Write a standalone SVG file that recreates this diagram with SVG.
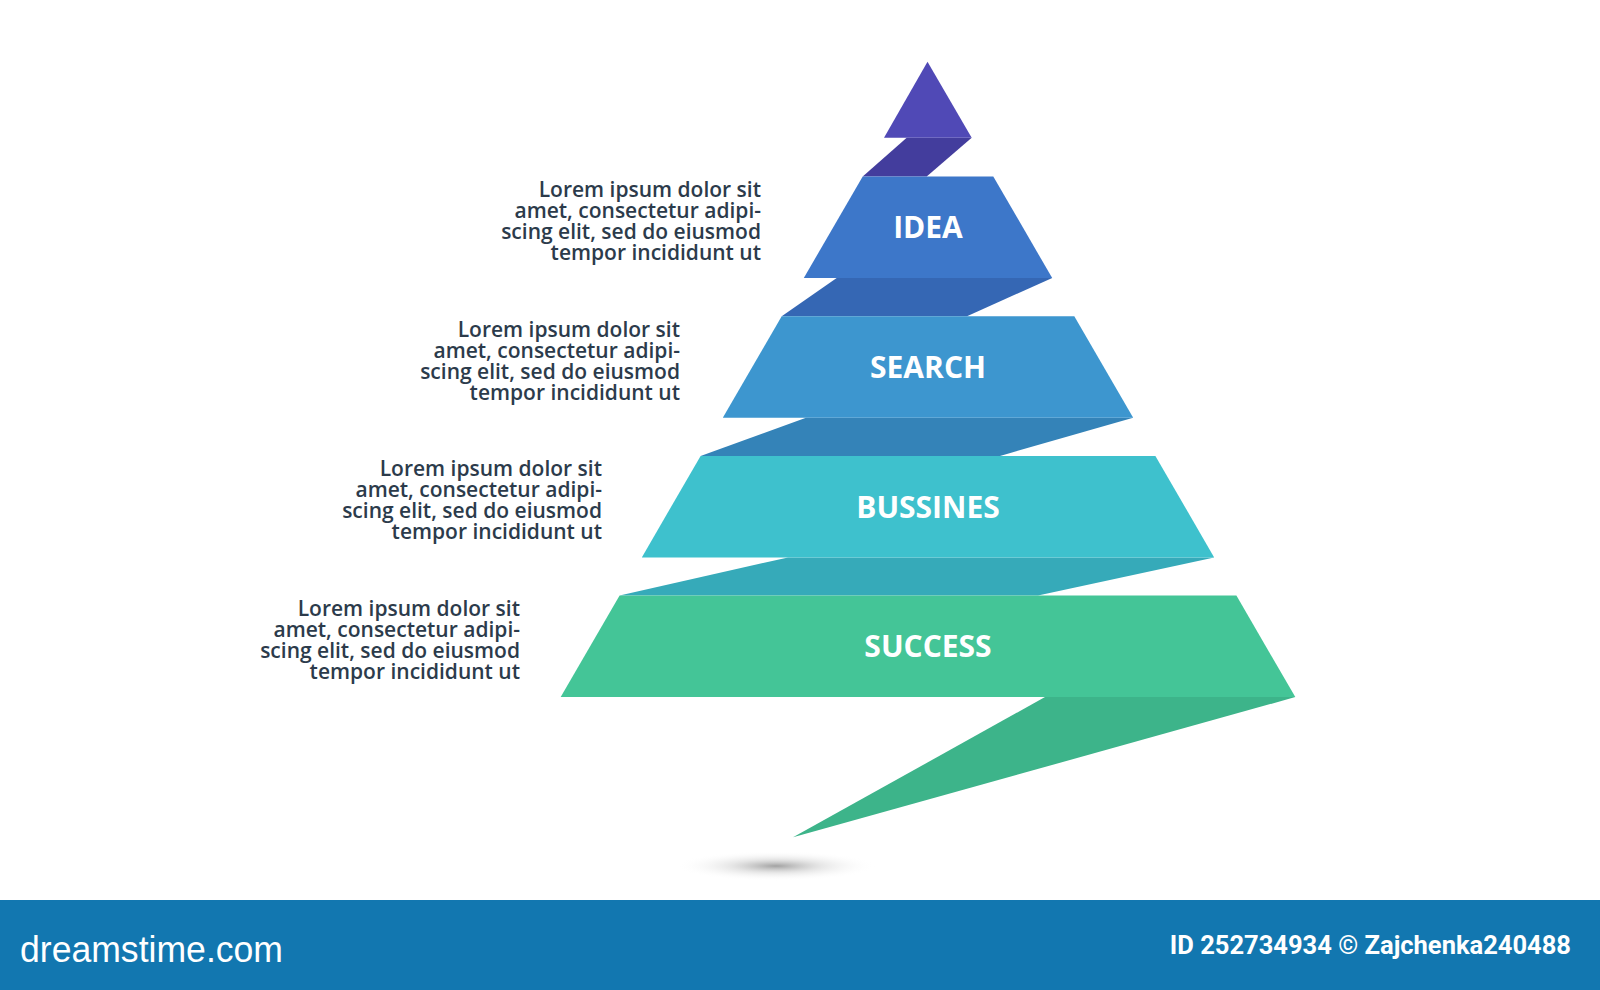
<svg xmlns="http://www.w3.org/2000/svg" width="1600" height="990" viewBox="0 0 1600 990">
<defs>
<radialGradient id="shadowGrad" cx="0.5" cy="0.5" r="0.5">
<stop offset="0" stop-color="#8a8a8a" stop-opacity="0.8"/>
<stop offset="0.45" stop-color="#c2c2c2" stop-opacity="0.4"/>
<stop offset="1" stop-color="#ffffff" stop-opacity="0"/>
</radialGradient>
<style>
.lbl{font-family:"Open Sans","Liberation Sans",sans-serif;font-weight:700;font-size:30px;fill:#ffffff;text-anchor:middle}
.desc{font-family:"Open Sans","Liberation Sans",sans-serif;font-weight:600;font-size:21px;fill:#2c3b4b;text-anchor:end}
</style>
</defs>
<rect x="0" y="0" width="1600" height="990" fill="#ffffff"/>
<ellipse cx="776" cy="866" rx="100" ry="15" fill="url(#shadowGrad)"/>
<g id="folds">
<polygon points="906.7,137.7 971.7,137.7 926.7,176.5 862.7,176.5" fill="#433d9d"/>
<polygon points="836.7,278 1052.2,278 967,316.2 781.7,316.2" fill="#3567b4"/>
<polygon points="806,417.7 1133.2,417.7 1000,455.9 700.6,455.9" fill="#3483b8"/>
<polygon points="788,557.4 1214.2,557.4 1038,595.6 619.6,595.6" fill="#36aab9"/>
<polygon points="1045,697.1 1295.3,697.1 793,837.3" fill="#3db48a"/>
</g>
<g id="arrow">
<polygon points="927.5,61.7 971.7,137.7 884,137.7" fill="#5049b6"/>
</g>
<g id="idea">
<polygon points="862.7,176.5 993.3,176.5 1052.2,278 803.8,278" fill="#3d77c9"/>
<text class="lbl" x="928" y="238">IDEA</text>
</g>
<g id="search">
<polygon points="781.7,316.2 1074.3,316.2 1133.2,417.7 722.8,417.7" fill="#3d96cf"/>
<text class="lbl" x="928" y="378">SEARCH</text>
</g>
<g id="bussines">
<polygon points="700.6,455.9 1155.4,455.9 1214.2,557.4 641.8,557.4" fill="#3ec1cd"/>
<text class="lbl" x="928" y="517.5">BUSSINES</text>
</g>
<g id="success">
<polygon points="619.6,595.6 1236.4,595.6 1295.3,697.1 560.7,697.1" fill="#44c597"/>
<text class="lbl" x="928" y="657">SUCCESS</text>
</g>
<g id="text-idea">
<text class="desc" x="761" y="197">Lorem ipsum dolor sit</text>
<text class="desc" x="761" y="218">amet, consectetur adipi-</text>
<text class="desc" x="761" y="239">scing elit, sed do eiusmod</text>
<text class="desc" x="761" y="260">tempor incididunt ut</text>
</g>
<g id="text-search">
<text class="desc" x="680" y="336.7">Lorem ipsum dolor sit</text>
<text class="desc" x="680" y="357.7">amet, consectetur adipi-</text>
<text class="desc" x="680" y="378.7">scing elit, sed do eiusmod</text>
<text class="desc" x="680" y="399.7">tempor incididunt ut</text>
</g>
<g id="text-bussines">
<text class="desc" x="602" y="476.4">Lorem ipsum dolor sit</text>
<text class="desc" x="602" y="497.4">amet, consectetur adipi-</text>
<text class="desc" x="602" y="518.4">scing elit, sed do eiusmod</text>
<text class="desc" x="602" y="539.4">tempor incididunt ut</text>
</g>
<g id="text-success">
<text class="desc" x="520" y="616.1">Lorem ipsum dolor sit</text>
<text class="desc" x="520" y="637.1">amet, consectetur adipi-</text>
<text class="desc" x="520" y="658.1">scing elit, sed do eiusmod</text>
<text class="desc" x="520" y="679.1">tempor incididunt ut</text>
</g>
<g id="footer">
<rect x="0" y="900" width="1600" height="90" fill="#1277b0"/>
<text x="20" y="962" font-family="'Liberation Sans',sans-serif" font-size="36" fill="#ffffff" textLength="263" lengthAdjust="spacingAndGlyphs">dreamstime.com</text>
<text x="1571" y="954" font-family="Roboto,'Liberation Sans',sans-serif" font-weight="700" font-size="25.5" fill="#ffffff" text-anchor="end">ID 252734934 © Zajchenka240488</text>
</g>
</svg>
